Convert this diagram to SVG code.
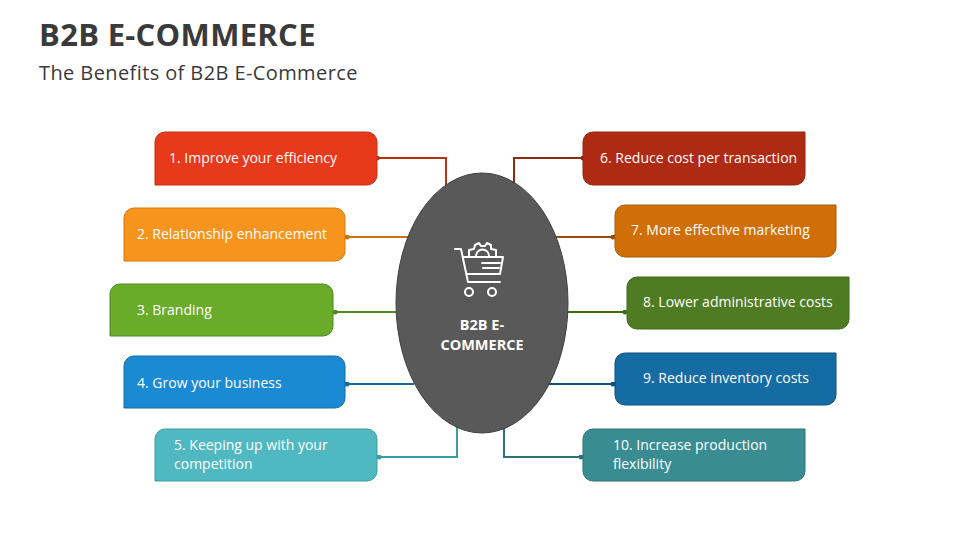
<svg xmlns="http://www.w3.org/2000/svg" width="960" height="540" viewBox="0 0 960 540">
<defs>
<style>
.t{font-family:"Open Sans","Liberation Sans",sans-serif;font-size:14px;fill:#fff}
.c{fill:none;stroke-width:2}
.ic{fill:none;stroke:#fff;stroke-width:2;stroke-linejoin:round;stroke-linecap:round}
</style>
<marker id="d" viewBox="0 0 6 6" refX="3" refY="3" markerWidth="5" markerHeight="5" markerUnits="userSpaceOnUse"><circle cx="3" cy="3" r="3" fill="context-stroke"/></marker>
</defs>
<rect width="960" height="540" fill="#fff"/>
<text x="39" y="46" font-family="'Open Sans','Liberation Sans',sans-serif" font-weight="bold" font-size="31" letter-spacing="0.3" fill="#3a3a3a">B2B E-COMMERCE</text>
<text x="39" y="80" font-family="'Open Sans','Liberation Sans',sans-serif" font-size="20" letter-spacing="0.4" fill="#3a3a3a">The Benefits of B2B E-Commerce</text>
<g id="connectors">
<polyline class="c" stroke="#B5320F" marker-start="url(#d)" points="377,158 446,158 446,190"/>
<polyline class="c" stroke="#D0710C" marker-start="url(#d)" points="347,237 412,237"/>
<polyline class="c" stroke="#4F8A22" marker-start="url(#d)" points="335,312 402,312"/>
<polyline class="c" stroke="#166A9E" marker-start="url(#d)" points="347,384 414,384"/>
<polyline class="c" stroke="#3B9CA4" marker-start="url(#d)" points="379,457 457,457 457,424"/>
<polyline class="c" stroke="#8A2A10" marker-end="url(#d)" points="514,190 514,158 583,158"/>
<polyline class="c" stroke="#9A4A08" marker-end="url(#d)" points="553,237 613,237"/>
<polyline class="c" stroke="#3F6A1C" marker-end="url(#d)" points="563,312 625,312"/>
<polyline class="c" stroke="#0F4F7C" marker-end="url(#d)" points="546,384 613,384"/>
<polyline class="c" stroke="#2C7176" marker-end="url(#d)" points="504,424 504,457 581,457"/>
</g>
<g id="center">
<ellipse cx="482" cy="303" rx="86" ry="130" fill="#595959" stroke="#3f3f3f" stroke-width="1"/>
<path class="ic" d="M455,249 L461,249 L468,282 L500,282 M463,257 L503,257 L500,274 L467,274"/>
<line class="ic" x1="482" y1="263" x2="500" y2="263"/><line class="ic" x1="483" y1="268" x2="499" y2="268"/>
<circle class="ic" cx="469" cy="292" r="4"/><circle class="ic" cx="492" cy="292" r="4"/>
<path class="ic" d="M469,256 L469,250 L474,249 L475,245 L479,243 L481,246 L485,246 L487,243 L491,245 L491,249 L496,250 L496,256 M476,256 A6,6 0 0 1 489,256"/>
<text x="482" y="330" text-anchor="middle" font-family="'Open Sans','Liberation Sans',sans-serif" font-weight="bold" font-size="14.5" fill="#fff">B2B E-</text>
<text x="482" y="350" text-anchor="middle" font-family="'Open Sans','Liberation Sans',sans-serif" font-weight="bold" font-size="14.5" fill="#fff">COMMERCE</text>
</g>
<g id="n1"><path d="M155,185 V142 a10,10 0 0 1 10,-10 H367 a10,10 0 0 1 10,10 V175 a10,10 0 0 1 -10,10 Z" fill="#E8391A" stroke="#C2300F"/><text class="t" x="169" y="163">1. Improve your efficiency</text></g>
<g id="n2"><path d="M124,261 V218 a10,10 0 0 1 10,-10 H335 a10,10 0 0 1 10,10 V251 a10,10 0 0 1 -10,10 Z" fill="#F7941D" stroke="#D9780F"/><text class="t" x="137" y="239">2. Relationship enhancement</text></g>
<g id="n3"><path d="M110,336 V294 a10,10 0 0 1 10,-10 H323 a10,10 0 0 1 10,10 V326 a10,10 0 0 1 -10,10 Z" fill="#6AAB2A" stroke="#4F8A22"/><text class="t" x="137" y="315">3. Branding</text></g>
<g id="n4"><path d="M124,408 V366 a10,10 0 0 1 10,-10 H335 a10,10 0 0 1 10,10 V398 a10,10 0 0 1 -10,10 Z" fill="#1B8AD4" stroke="#166AA0"/><text class="t" x="137" y="388">4. Grow your business</text></g>
<g id="n5"><path d="M155,481 V439 a10,10 0 0 1 10,-10 H367 a10,10 0 0 1 10,10 V471 a10,10 0 0 1 -10,10 Z" fill="#4FB8C0" stroke="#3B9CA4"/><text class="t" x="174" y="450">5. Keeping up with your</text><text class="t" x="174" y="469">competition</text></g>
<g id="n6"><path d="M805,132 V175 a10,10 0 0 1 -10,10 H593 a10,10 0 0 1 -10,-10 V142 a10,10 0 0 1 10,-10 Z" fill="#AE2A12" stroke="#8A2A10"/><text class="t" x="600" y="163">6. Reduce cost per transaction</text></g>
<g id="n7"><path d="M836,205 V247 a10,10 0 0 1 -10,10 H625 a10,10 0 0 1 -10,-10 V215 a10,10 0 0 1 10,-10 Z" fill="#D06F07" stroke="#A95A06"/><text class="t" x="631" y="235">7. More effective marketing</text></g>
<g id="n8"><path d="M849,277 V319 a10,10 0 0 1 -10,10 H637 a10,10 0 0 1 -10,-10 V287 a10,10 0 0 1 10,-10 Z" fill="#4F7C22" stroke="#3F6A1C"/><text class="t" x="643" y="307">8. Lower administrative costs</text></g>
<g id="n9"><path d="M836,353 V395 a10,10 0 0 1 -10,10 H625 a10,10 0 0 1 -10,-10 V363 a10,10 0 0 1 10,-10 Z" fill="#156BA3" stroke="#0F4F7C"/><text class="t" x="643" y="383">9. Reduce inventory costs</text></g>
<g id="n10"><path d="M805,429 V471 a10,10 0 0 1 -10,10 H593 a10,10 0 0 1 -10,-10 V439 a10,10 0 0 1 10,-10 Z" fill="#398D92" stroke="#2C7176"/><text class="t" x="613" y="450">10. Increase production</text><text class="t" x="613" y="469">flexibility</text></g>
</svg>
